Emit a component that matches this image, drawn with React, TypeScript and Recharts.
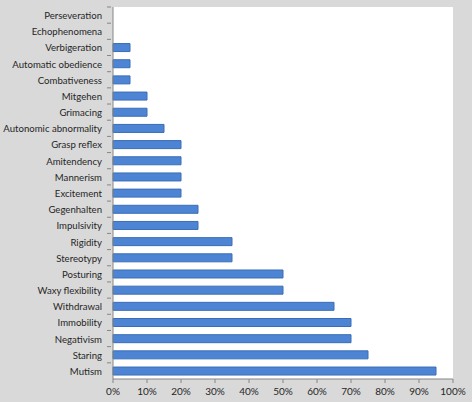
import React from "react";
import { BarChart, Bar, XAxis, YAxis, CartesianGrid } from "recharts";

const categories = [
  "Perseveration", "Echophenomena", "Verbigeration", "Automatic obedience", "Combativeness",
  "Mitgehen", "Grimacing", "Autonomic abnormality", "Grasp reflex", "Amitendency",
  "Mannerism", "Excitement", "Gegenhalten", "Impulsivity", "Rigidity", "Stereotypy",
  "Posturing", "Waxy flexibility", "Withdrawal", "Immobility", "Negativism", "Staring", "Mutism",
];
const values = [0, 0, 5, 5, 5, 10, 10, 15, 20, 20, 20, 20, 25, 25, 35, 35, 50, 50, 65, 70, 70, 75, 95];
const xTicks = [0, 10, 20, 30, 40, 50, 60, 70, 80, 90, 100];

const data = categories.map((name, i) => ({ name, value: values[i] }));

const FONT = "Lato, 'Open Sans', sans-serif";
const AXIS = "#868686";

const YTick = (props: any) => {
  const { x, y, payload } = props;
  const off = payload.offset || 0;
  return (
    <g>
      <line x1={x - 4} x2={x} y1={y - off} y2={y - off} stroke={AXIS} />
      <text x={x - 9} y={y} dy={4} textAnchor="end" fontSize={9.6} fill="#262626" fontFamily={FONT}>
        {payload.value}
      </text>
    </g>
  );
};

export default function App() {
  return (
    <div style={{ width: 472, height: 402, background: "#d9d9d9" }}>
      <style>{`body{margin:0}`}</style>
      <BarChart
        width={472}
        height={402}
        data={data}
        layout="vertical"
        margin={{ top: 7, right: 19, bottom: 0, left: 0 }}
        barCategoryGap="26%"
      >
        <CartesianGrid fill="#ffffff" horizontal={false} vertical={false} stroke="none" />
        <XAxis
          type="number"
          domain={[0, 100]}
          ticks={xTicks}
          tickFormatter={(v: number) => `${v}%`}
          interval={0}
          height={23}
          stroke={AXIS}
          tickSize={4}
          tickMargin={5}
          tick={{ fontSize: 10, fill: "#262626", fontFamily: FONT }}
        />
        <YAxis
          type="category"
          dataKey="name"
          width={113}
          stroke={AXIS}
          tickLine={false}
          tickSize={0}
          interval={0}
          tick={<YTick />}
        />
        <Bar dataKey="value" fill="#4d85d4" stroke="#3b6db6" strokeWidth={1} isAnimationActive={false} />
      </BarChart>
    </div>
  );
}
